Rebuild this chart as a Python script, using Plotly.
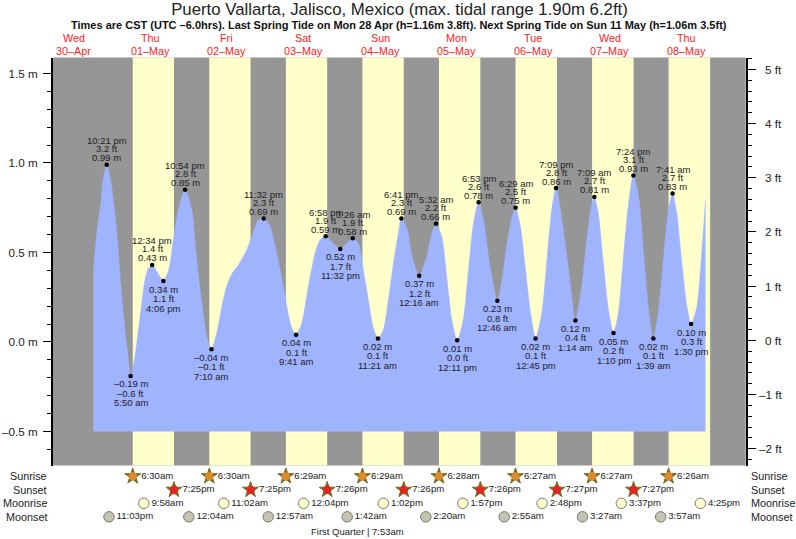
import pandas as pd
import plotly.graph_objects as go

# high and low tides, alternating, times are CST
extreme_times = ['04-30 22:21', '05-01 05:50', '05-01 12:34', '05-01 16:06', '05-01 22:54', '05-02 07:10', '05-02 23:32',
                 '05-03 09:41', '05-03 18:58', '05-03 23:32', '05-04 03:26', '05-04 11:21', '05-04 18:41', '05-05 00:16',
                 '05-05 05:32', '05-05 12:11', '05-05 18:53', '05-06 00:46', '05-06 06:29', '05-06 12:45', '05-06 19:09',
                 '05-07 01:14', '05-07 07:09', '05-07 13:10', '05-07 19:24', '05-08 01:39', '05-08 07:41', '05-08 13:30']
extreme_m = [0.99, -0.19, 0.43, 0.34, 0.85, -0.04, 0.69,
             0.04, 0.59, 0.52, 0.58, 0.02, 0.69, 0.37,
             0.66, 0.01, 0.78, 0.23, 0.75, 0.02, 0.86,
             0.12, 0.81, 0.05, 0.93, 0.02, 0.83, 0.10]
extreme_ft = [3.2, -0.6, 1.4, 1.1, 2.8, -0.1, 2.3,
              0.1, 1.9, 1.7, 1.9, 0.1, 2.3, 1.2,
              2.2, 0.0, 2.6, 0.8, 2.5, 0.1, 2.8,
              0.4, 2.7, 0.2, 3.1, 0.1, 2.7, 0.3]
extreme_clock = ['10:21 pm', '5:50 am', '12:34 pm', '4:06 pm', '10:54 pm', '7:10 am', '11:32 pm',
                 '9:41 am', '6:58 pm', '11:32 pm', '3:26 am', '11:21 am', '6:41 pm', '12:16 am',
                 '5:32 am', '12:11 pm', '6:53 pm', '12:46 am', '6:29 am', '12:45 pm', '7:09 pm',
                 '1:14 am', '7:09 am', '1:10 pm', '7:24 pm', '1:39 am', '7:41 am', '1:30 pm']

# curve readings between the extremes
curve_times = ['04-30 18:09', '04-30 19:00', '04-30 20:33', '04-30 21:05', '04-30 23:42',
               '05-01 00:25', '05-01 01:30', '05-01 02:20', '05-01 03:10', '05-01 04:10', '05-01 05:25',
               '05-01 07:12', '05-01 08:47', '05-01 10:20', '05-01 11:23', '05-01 14:30',
               '05-01 17:39', '05-01 19:13', '05-01 20:47',
               '05-02 01:00', '05-02 02:33', '05-02 04:07', '05-02 05:41',
               '05-02 08:49', '05-02 10:25', '05-02 11:56', '05-02 13:32', '05-02 15:36', '05-02 18:13', '05-02 19:47', '05-02 21:52',
               '05-03 01:32', '05-03 03:37', '05-03 05:42', '05-03 07:18', '05-03 08:20',
               '05-03 11:28', '05-03 13:32', '05-03 15:38', '05-03 17:11', '05-03 21:22',
               '05-04 01:34', '05-04 05:13', '05-04 06:48', '05-04 08:21', '05-04 09:55',
               '05-04 13:00', '05-04 14:37', '05-04 16:12', '05-04 17:45', '05-04 20:34', '05-04 22:03',
               '05-05 02:39', '05-05 04:13', '05-05 07:21', '05-05 08:54', '05-05 10:30',
               '05-05 14:06', '05-05 15:42', '05-05 17:18', '05-05 20:24', '05-05 22:00', '05-05 23:36',
               '05-06 02:12', '05-06 03:48', '05-06 05:24', '05-06 08:00', '05-06 09:36', '05-06 11:12',
               '05-06 14:42', '05-06 16:18', '05-06 17:48', '05-06 20:24', '05-06 22:00', '05-06 23:36',
               '05-07 03:12', '05-07 04:48', '05-07 06:24', '05-07 08:24', '05-07 10:00', '05-07 11:36',
               '05-07 14:42', '05-07 16:18', '05-07 17:54', '05-07 21:12', '05-07 22:30',
               '05-08 00:06', '05-08 03:18', '05-08 04:54', '05-08 06:24', '05-08 09:00', '05-08 10:36', '05-08 12:12',
               '05-08 15:18', '05-08 16:54', '05-08 18:00']
curve_m = [0.39, 0.57, 0.79, 0.89, 0.89,
           0.79, 0.61, 0.42, 0.235, 0.05, -0.14,
           -0.08, 0.14, 0.346, 0.41, 0.38,
           0.393, 0.57, 0.737,
           0.737, 0.458, 0.22, 0.03,
           0.05, 0.197, 0.31, 0.38, 0.43, 0.514, 0.588, 0.68,
           0.645, 0.495, 0.31, 0.15, 0.076,
           0.104, 0.31, 0.495, 0.57, 0.551,
           0.551, 0.551, 0.40, 0.235, 0.076,
           0.066, 0.235, 0.44, 0.607, 0.626, 0.477,
           0.477, 0.607, 0.588, 0.365, 0.123,
           0.123, 0.40, 0.663, 0.682, 0.477, 0.31,
           0.346, 0.551, 0.70, 0.645, 0.40, 0.16,
           0.16, 0.458, 0.737, 0.756, 0.551, 0.327,
           0.31, 0.57, 0.775, 0.72, 0.44, 0.178,
           0.16, 0.477, 0.775, 0.793, 0.514,
           0.197, 0.178, 0.477, 0.737, 0.72, 0.44, 0.197,
           0.197, 0.514, 0.793]

day_names = ['Wed', 'Thu', 'Fri', 'Sat', 'Sun', 'Mon', 'Tue', 'Wed', 'Thu']
day_dates = ['30–Apr', '01–May', '02–May', '03–May', '04–May', '05–May', '06–May', '07–May', '08–May']
day_noons = ['04-30 12:00', '05-01 12:00', '05-02 12:00', '05-03 12:00', '05-04 12:00', '05-05 12:00', '05-06 12:00',
             '05-07 12:00', '05-08 12:00']

sunrise_times = ['05-01 06:30', '05-02 06:30', '05-03 06:29', '05-04 06:29', '05-05 06:28', '05-06 06:27', '05-07 06:27', '05-08 06:26']
sunrise_text = ['6:30am', '6:30am', '6:29am', '6:29am', '6:28am', '6:27am', '6:27am', '6:26am']
# the 8 May sunset closes the last band but gets no marker in the row
sunset_times = ['05-01 19:25', '05-02 19:25', '05-03 19:26', '05-04 19:26', '05-05 19:26', '05-06 19:27', '05-07 19:27', '05-08 19:27']
sunset_text = ['7:25pm', '7:25pm', '7:26pm', '7:26pm', '7:26pm', '7:27pm', '7:27pm']
moonrise_times = ['05-01 09:58', '05-02 11:02', '05-03 12:04', '05-04 13:02', '05-05 13:57', '05-06 14:48', '05-07 15:37', '05-08 16:25']
moonrise_text = ['9:58am', '11:02am', '12:04pm', '1:02pm', '1:57pm', '2:48pm', '3:37pm', '4:25pm']
moonset_times = ['04-30 23:03', '05-02 00:04', '05-03 00:57', '05-04 01:42', '05-05 02:20', '05-06 02:55', '05-07 03:27', '05-08 03:57']
moonset_text = ['11:03pm', '12:04am', '12:57am', '1:42am', '2:20am', '2:55am', '3:27am', '3:57am']

row_names = ['Sunrise', 'Sunset', 'Moonrise', 'Moonset']
metre_ticks = [-0.5, 0.0, 0.5, 1.0, 1.5]
metre_labels = ['–0.5 m', '0.0 m', '0.5 m', '1.0 m', '1.5 m']
feet_ticks = [-2, -1, 0, 1, 2, 3, 4, 5]

FONT = 'Liberation Sans'
W, H = 796, 539
GREY = '#969696'
YELLOW = '#FFFFCC'
BLUE = '#A0B3FF'
TEXT = '#222222'


def stamp(s):
    return pd.Timestamp('2025-' + s)


def stamps(items):
    return [stamp(s) for s in items]


def py(px):
    # pixel row from the top -> paper fraction
    return 1 - px / H


tide = pd.DataFrame({'t': stamps(extreme_times + curve_times), 'm': extreme_m + curve_m}).sort_values('t')

fig = go.Figure()

# base line for the blue fill
fig.add_trace(go.Scatter(x=[tide.t.iloc[0], tide.t.iloc[-1]], y=[metre_ticks[0]] * 2, mode='lines',
                         line=dict(width=0), showlegend=False, hoverinfo='skip'))
fig.add_trace(go.Scatter(x=tide.t, y=tide.m, mode='lines', fill='tonexty', fillcolor=BLUE,
                         line=dict(color=BLUE, width=0.5, shape='spline', smoothing=0.7), showlegend=False))
fig.add_trace(go.Scatter(x=stamps(extreme_times), y=extreme_m, mode='markers',
                         marker=dict(color='black', size=4.5), showlegend=False))

# invisible trace on the feet axis so that it gets drawn
fig.add_trace(go.Scatter(x=[stamp(day_noons[0])], y=[feet_ticks[0]], yaxis='y2', mode='markers',
                         marker=dict(opacity=0), showlegend=False, hoverinfo='skip'))

# grey night background, then the daylight bands on top of it
fig.add_shape(type='rect', xref='x domain', yref='y domain', x0=0, x1=1, y0=0, y1=1,
              fillcolor=GREY, line=dict(width=0), layer='below')
for rise, sett in zip(sunrise_times, sunset_times):
    fig.add_shape(type='rect', xref='x', yref='y domain', x0=stamp(rise), x1=stamp(sett), y0=0, y1=1,
                  fillcolor=YELLOW, line=dict(width=0), layer='below')


# sun and moon rows under the plot
def row_trace(times, labels, row, color, line_color, symbol, size, show_text=True):
    fig.add_trace(go.Scatter(x=stamps(times), y=[row] * len(times), xaxis='x2', yaxis='y3',
                             mode='markers+text' if show_text else 'markers',
                             text=labels, textposition='middle right',
                             textfont=dict(family=FONT, size=9.6, color=TEXT),
                             marker=dict(symbol=symbol, size=size, color=color, line=dict(color=line_color, width=1)),
                             showlegend=False))


row_trace(sunrise_times, sunrise_text, 0, '#7A6A25', '#7A6A25', 'star', 12)
row_trace(sunrise_times, None, 0, '#DD8A2A', '#DD8A2A', 'circle', 7.5, show_text=False)
row_trace(sunset_times[:7], sunset_text, 1, '#7A6A25', '#7A6A25', 'star', 12)
row_trace(sunset_times[:7], None, 1, '#E0281E', '#E0281E', 'circle', 7.5, show_text=False)
row_trace(moonrise_times, moonrise_text, 2, YELLOW, '#777777', 'circle', 10.5)
row_trace(moonset_times, moonset_text, 3, '#C4C4B0', '#777777', 'circle', 10.5)

ann = []

# labels on each high / low
for i, (t, m, ft, clock) in enumerate(zip(extreme_times, extreme_m, extreme_ft, extreme_clock)):
    high = i % 2 == 0
    shifts = [7, 16, 24] if high else [-8, -17.5, -27]
    lines = [f'{m:.2f} m'.replace('-', '–'), f'{ft:.1f} ft'.replace('-', '–'), clock]
    for line, shift in zip(lines, shifts):
        ann.append(dict(x=stamp(t), y=m, text=line, showarrow=False, yshift=shift,
                        font=dict(family=FONT, size=9.5, color=TEXT)))

for noon, name, date in zip(day_noons, day_names, day_dates):
    ann.append(dict(x=stamp(noon), xref='x', y=py(37.5), yref='paper', yanchor='middle', text=name, showarrow=False,
                    font=dict(family=FONT, size=10.8, color='#FF2020')))
    ann.append(dict(x=stamp(noon), xref='x', y=py(50.5), yref='paper', yanchor='middle', text=date, showarrow=False,
                    font=dict(family=FONT, size=10.8, color='#FF2020')))

for i, name in enumerate(row_names):
    ann.append(dict(x=49 / W, xref='paper', xanchor='right', y=i, yref='y3', text=name, showarrow=False,
                    font=dict(family=FONT, size=10.8, color=TEXT)))
    ann.append(dict(x=749 / W, xref='paper', xanchor='left', y=i, yref='y3', text=name, showarrow=False,
                    font=dict(family=FONT, size=10.8, color=TEXT)))

# feet labels sit right aligned
for ft in feet_ticks:
    ann.append(dict(x=784 / W, xref='paper', xanchor='right', y=ft, yref='y2', text=f'{ft} ft'.replace('-', '–'),
                    showarrow=False, font=dict(family=FONT, size=11.7, color=TEXT)))

ann.append(dict(x=399 / W, xref='paper', y=py(25), yref='paper', yanchor='middle', showarrow=False,
                text='Times are CST (UTC –6.0hrs). Last Spring Tide on Mon 28 Apr (h=1.16m 3.8ft). '
                     'Next Spring Tide on Sun 11 May (h=1.06m 3.5ft)',
                font=dict(family=FONT, size=11, color='#111111', weight='bold')))
ann.append(dict(x=357 / W, xref='paper', y=py(531), yref='paper', yanchor='middle', text='First Quarter | 7:53am',
                showarrow=False, font=dict(family=FONT, size=9.5, color=TEXT)))

x_range = [stamp('04-30 05:30'), stamp('05-09 06:36')]
x_domain = [53 / W, 745.7 / W]

fig.update_layout(
    width=W,
    height=H,
    margin=dict(l=0, r=0, t=0, b=0),
    autosize=False,
    paper_bgcolor='white',
    plot_bgcolor='white',
    showlegend=False,
    title=dict(text='Puerto Vallarta, Jalisco, Mexico (max. tidal range 1.90m 6.2ft)', x=399.5 / W, xanchor='center',
               xref='paper', y=py(9), yref='paper', yanchor='middle', font=dict(family=FONT, size=16.8, color=TEXT)),
    annotations=ann,
    xaxis=dict(domain=x_domain, range=x_range, type='date', visible=False, anchor='y'),
    xaxis2=dict(domain=x_domain, range=x_range, type='date', visible=False, anchor='y3'),
    yaxis=dict(domain=[py(465.5), py(57.5)], range=[-0.69, 1.589], tickvals=metre_ticks, ticktext=metre_labels,
               ticks='outside', ticklen=8, tickwidth=1, tickcolor='black', showgrid=False, zeroline=False,
               showline=True, linewidth=2, linecolor='black', tickfont=dict(family=FONT, size=11.7, color=TEXT),
               ticklabelstandoff=3,
               minor=dict(dtick=0.1, ticks='outside', ticklen=4, tickwidth=1, tickcolor='black', showgrid=False)),
    yaxis2=dict(domain=[py(465.5), py(53.5)], range=[-2.31, 5.22], overlaying='y', side='right', anchor='x',
                tickvals=feet_ticks, ticks='outside', ticklen=8, tickwidth=1, tickcolor='black', showticklabels=False,
                showgrid=False, zeroline=False, showline=True, linewidth=2, linecolor='black',
                minor=dict(dtick=0.2, ticks='outside', ticklen=4, tickwidth=1, tickcolor='black', showgrid=False)),
    yaxis3=dict(domain=[0, py(465.5)], range=[4.64, -0.8], visible=False, anchor='x2'),
)

# the page's default 8px body margin would push the chart off the window
fig.write_html("out.html", config=dict(displayModeBar=False), post_script="document.body.style.margin='0';")
